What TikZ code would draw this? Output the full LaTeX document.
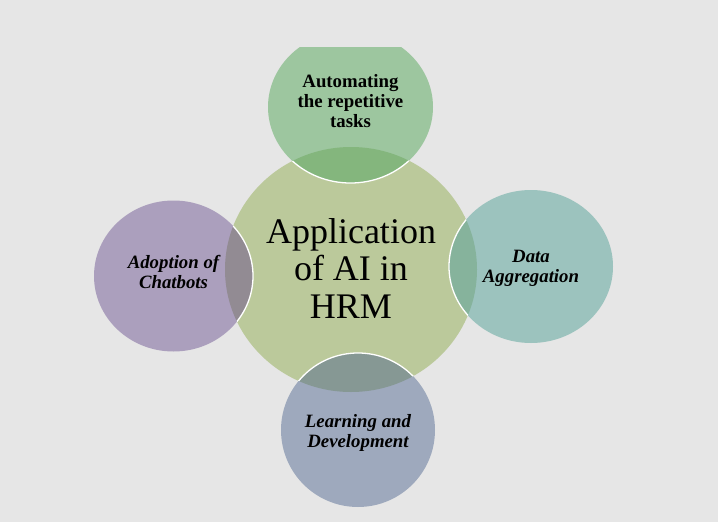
\documentclass[tikz,border=0pt]{standalone}
\usepackage{fontspec}
\setmainfont{Liberation Serif}
\definecolor{bgc}{HTML}{E6E6E6}
\definecolor{cmain}{HTML}{BBC99B}
\definecolor{ctop}{HTML}{9DC69F}
\definecolor{ctopx}{HTML}{84B67D}
\definecolor{cleft}{HTML}{AB9FBD}
\definecolor{cleftx}{HTML}{928B93}
\definecolor{cright}{HTML}{9CC3BE}
\definecolor{crightx}{HTML}{86B39C}
\definecolor{cbot}{HTML}{9EA9BD}
\definecolor{cbotx}{HTML}{869894}
\tikzset{
  smalltxt/.style={align=center, inner sep=0pt, font=\fontsize{18.8}{20}\selectfont\bfseries\itshape},
  toptxt/.style={align=center, inner sep=0pt, font=\fontsize{18.8}{20}\selectfont\bfseries},
  bigtxt/.style={align=center, inner sep=0pt, font=\fontsize{36}{37.5}\selectfont},
  rim/.style={draw=white, line width=1.3pt}
}
\begin{document}
\begin{tikzpicture}[x=1pt,y=-1pt]
\fill[bgc] (0,0) rectangle (718,522);
\useasboundingbox (0,0) rectangle (718,522);
% central circle
\fill[cmain] (351,269.5) ellipse [x radius=126, y radius=122.5];
% outer circles
\begin{scope}
  \clip (0,47) rectangle (718,522);
  \fill[ctop] (350.5,107) ellipse [x radius=82.5, y radius=76];
\end{scope}
\fill[cleft] (173.5,276) ellipse [x radius=79.5, y radius=75.5];
\fill[cright] (531,266.5) ellipse [x radius=82, y radius=76.5];
\fill[cbot] (358,430) ellipse [x radius=77, y radius=77];
% overlaps with the central circle
\begin{scope}
  \clip (351,269.5) ellipse [x radius=126, y radius=122.5];
  \fill[ctopx] (350.5,107) ellipse [x radius=82.5, y radius=76];
  \fill[cleftx] (173.5,276) ellipse [x radius=79.5, y radius=75.5];
  \fill[crightx] (531,266.5) ellipse [x radius=82, y radius=76.5];
  \fill[cbotx] (358,430) ellipse [x radius=77, y radius=77];
  \draw[rim] (350.5,107) ellipse [x radius=82.5, y radius=76];
  \draw[rim] (173.5,276) ellipse [x radius=79.5, y radius=75.5];
  \draw[rim] (531,266.5) ellipse [x radius=82, y radius=76.5];
  \draw[rim] (358,430) ellipse [x radius=77, y radius=77];
\end{scope}
% texts
\node[bigtxt] (main) at (351,268.5) {Application\\of AI in\\HRM};
\node[toptxt] (auto) at (350.5,101.5) {Automating\\the repetitive\\tasks};
\node[smalltxt] (chat) at (173.5,271.5) {Adoption of\\Chatbots};
\node[smalltxt] (data) at (531,268) {Data\\Aggregation};
\node[smalltxt] (learn) at (358,432.7) {Learning and\\Development};
\end{tikzpicture}
\end{document}
